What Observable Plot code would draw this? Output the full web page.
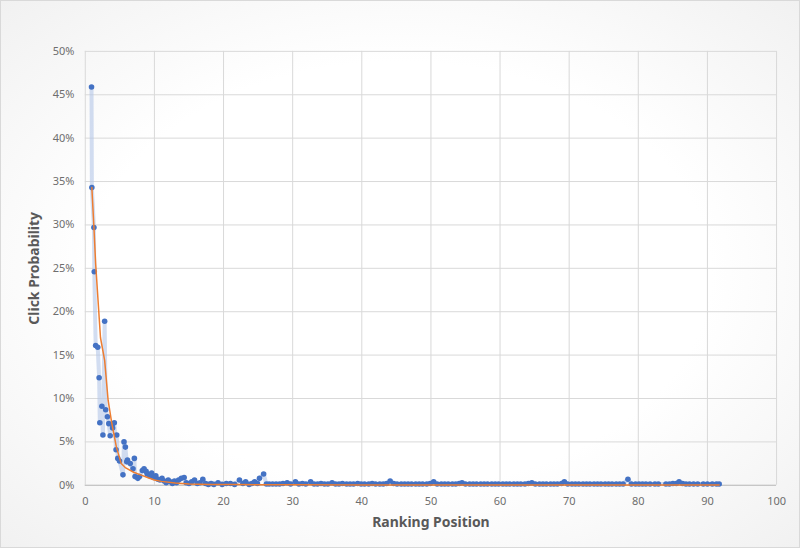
<!DOCTYPE html>
<html>
<head>
<meta charset="utf-8">
<script src="https://cdn.jsdelivr.net/npm/d3@7"></script>
<script src="https://cdn.jsdelivr.net/npm/@observablehq/plot@0.6"></script>
<style>
  html, body { margin: 0; padding: 0; }
  #chart {
    width: 800px; height: 548px; box-sizing: border-box;
    border: 1px solid #d9d9d9;
    background: radial-gradient(ellipse at center, #ffffff 55%, #f1f1f1 100%);
    overflow: hidden;
  }
  #chart svg { background: transparent !important; }
  #chart svg g[aria-label="x-axis label"] text,
  #chart svg g[aria-label="y-axis label"] text {
    font-weight: bold; font-size: 14px; fill: #595959;
  }
</style>
</head>
<body>
<div id="chart"></div>
<script>
// Ranking position (x) and click probability in % (y) for each observation
const positions = [
  0.9, 0.95, 1.25, 1.3, 1.5, 1.8, 2.0, 2.1, 2.4, 2.55, 2.8, 2.95, 3.2, 3.4, 3.6, 3.9, 3.95, 4.2, 4.45, 4.55,
  4.7, 4.95, 5.45, 5.6, 5.8, 6.0, 6.1, 6.5, 6.9, 7.1, 7.2, 7.6, 7.85, 8.25, 8.5, 8.8, 8.95, 9.3, 9.6, 9.9,
  10.2, 10.5, 10.8, 11.1, 11.4, 11.7, 12.0, 12.3, 12.6, 12.9, 13.2, 13.5, 13.9, 14.3, 14.6, 15.0, 15.4, 15.8, 16.2, 16.6,
  17.0, 17.4, 17.8, 18.2, 18.6, 19.2, 19.8, 20.4, 21.0, 21.6, 22.3, 22.8, 23.2, 23.7, 24.1, 24.5, 24.9, 25.2, 25.8, 26.2,
  26.6, 27.1, 27.6, 28.1, 28.6, 29.2, 29.7, 30.4, 30.9, 31.4, 31.9, 32.6, 33.1, 33.6, 34.1, 34.6, 35.1, 35.7, 36.2, 36.7,
  37.2, 37.8, 38.3, 38.8, 39.4, 39.9, 40.4, 41.0, 41.5, 42.0, 42.6, 43.1, 43.6, 44.1, 44.6, 45.1, 45.7, 46.2, 46.7, 47.2,
  47.8, 48.3, 48.8, 49.4, 49.9, 50.4, 50.9, 51.5, 52.0, 52.5, 53.1, 53.6, 54.1, 54.5, 55.0, 55.6, 56.1, 56.6, 57.2, 57.7,
  58.2, 58.8, 59.3, 59.8, 60.4, 60.9, 61.4, 62.0, 62.5, 63.0, 63.6, 64.1, 64.6, 65.1, 65.7, 66.2, 66.7, 67.3, 67.8, 68.3,
  68.9, 69.3, 69.8, 70.4, 70.9, 71.4, 72.0, 72.5, 73.0, 73.6, 74.1, 74.6, 75.2, 75.7, 76.2, 76.8, 77.3, 77.8, 78.5, 79.0,
  79.6, 80.1, 80.6, 81.1, 81.7, 82.4, 82.9, 84.0, 84.5, 85.0, 85.5, 85.9, 86.4, 86.9, 87.4, 88.0, 88.6, 89.4, 90.0, 90.7,
  91.3, 91.7
];
const clickProb = [
  45.9, 34.3, 29.7, 24.6, 16.1, 15.9, 12.4, 7.2, 9.1, 5.8, 18.9, 8.7, 7.9, 7.1, 5.7, 7.0, 6.6, 7.2, 4.1, 5.8,
  3.1, 2.8, 1.2, 5.0, 4.4, 2.7, 2.9, 2.5, 1.9, 3.1, 1.0, 0.8, 1.0, 1.7, 1.9, 1.6, 1.3, 1.1, 1.4, 0.9,
  1.1, 0.7, 0.6, 0.8, 0.5, 0.3, 0.6, 0.4, 0.2, 0.5, 0.3, 0.6, 0.8, 0.9, 0.3, 0.2, 0.4, 0.6, 0.2, 0.3,
  0.7, 0.2, 0.1, 0.2, 0.1, 0.3, 0.1, 0.2, 0.2, 0.1, 0.6, 0.2, 0.4, 0.1, 0.2, 0.4, 0.2, 0.8, 1.3, 0.15,
  0.15, 0.15, 0.15, 0.15, 0.2, 0.3, 0.15, 0.4, 0.15, 0.2, 0.15, 0.4, 0.15, 0.15, 0.2, 0.15, 0.15, 0.3, 0.15, 0.15,
  0.2, 0.15, 0.15, 0.15, 0.2, 0.15, 0.15, 0.15, 0.2, 0.15, 0.15, 0.15, 0.2, 0.5, 0.2, 0.15, 0.15, 0.15, 0.15, 0.15,
  0.15, 0.15, 0.15, 0.15, 0.2, 0.4, 0.15, 0.15, 0.15, 0.15, 0.15, 0.15, 0.2, 0.3, 0.15, 0.15, 0.15, 0.15, 0.15, 0.15,
  0.15, 0.15, 0.15, 0.15, 0.15, 0.15, 0.15, 0.15, 0.15, 0.15, 0.15, 0.2, 0.3, 0.15, 0.15, 0.15, 0.15, 0.15, 0.15, 0.15,
  0.2, 0.4, 0.15, 0.15, 0.15, 0.15, 0.15, 0.15, 0.15, 0.15, 0.15, 0.15, 0.15, 0.15, 0.15, 0.15, 0.15, 0.15, 0.7, 0.15,
  0.15, 0.15, 0.15, 0.15, 0.15, 0.15, 0.15, 0.15, 0.15, 0.2, 0.2, 0.4, 0.2, 0.15, 0.15, 0.15, 0.15, 0.15, 0.15, 0.15,
  0.15, 0.15
];
// Orange fitted curve
const fitPositions = [0.95, 1.25, 1.5, 2.2, 2.8, 3.3, 3.8, 4.5, 5.2, 5.85, 7, 8, 9, 10, 11, 13, 15, 18, 22, 30, 40, 60, 80, 91.7];
const fitProb      = [34.3, 29.7, 25.5, 17.0, 14.4, 9.8, 7.3, 4.4, 2.5, 2.0, 1.5, 1.2, 0.9, 0.6, 0.45, 0.25, 0.15, 0.1, 0.08, 0.05, 0.04, 0.03, 0.03, 0.03];
const xTicks = [0, 10, 20, 30, 40, 50, 60, 70, 80, 90, 100];
const yTicks = [0, 5, 10, 15, 20, 25, 30, 35, 40, 45, 50];

const points = positions.map((x, i) => ({x, y: clickProb[i]}));
const fit = fitPositions.map((x, i) => ({x, y: fitProb[i]}));

const chart = Plot.plot({
  width: 800,
  height: 548,
  marginLeft: 84,
  marginRight: 23,
  marginTop: 50,
  marginBottom: 63,
  style: {fontFamily: "'Noto Sans', 'Open Sans', sans-serif", fontSize: "11px", color: "#595959", background: "transparent"},
  x: {domain: [0, 100], ticks: xTicks, label: "Ranking Position"},
  y: {domain: [0, 50], ticks: yTicks, tickFormat: d => d + "%", label: "Click Probability"},
  marks: [
    Plot.gridX(xTicks, {stroke: "#d9d9d9", strokeOpacity: 1}),
    Plot.gridY(yTicks, {stroke: "#d9d9d9", strokeOpacity: 1}),
    Plot.ruleY([0], {stroke: "#bfbfbf"}),
    Plot.axisX(xTicks, {tickSize: 0, tickPadding: 12, fill: "#6e6e6e", label: "Ranking Position", labelAnchor: "center", labelArrow: "none", labelOffset: 42}),
    Plot.axisY(yTicks, {tickSize: 0, tickPadding: 11, fill: "#6e6e6e", tickFormat: d => d + "%", label: "Click Probability", labelAnchor: "center", labelArrow: "none", labelOffset: 56}),
    Plot.line(points, {x: "x", y: "y", stroke: "#b4c7e7", strokeWidth: 4, strokeOpacity: 0.6}),
    Plot.dot(points, {x: "x", y: "y", r: 2.8, fill: "#4472c4"}),
    Plot.line(fit, {x: "x", y: "y", stroke: "#ed7d31", strokeWidth: 1.5})
  ]
});
document.getElementById("chart").appendChild(chart);
</script>
</body>
</html>
